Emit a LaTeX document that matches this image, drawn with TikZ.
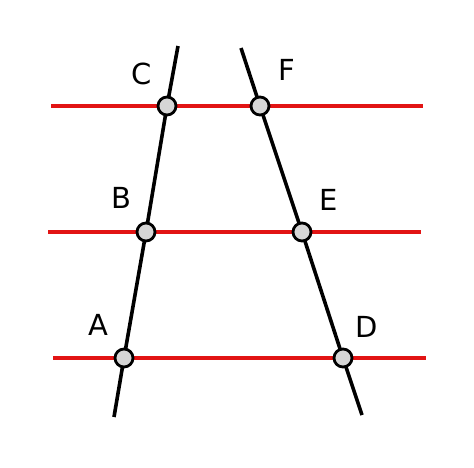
\documentclass[tikz,border=0pt]{standalone}
\usepackage{fontspec}
\setmainfont{DejaVu Sans}
\usetikzlibrary{calc, positioning}
\pgfdeclarelayer{bg}
\pgfsetlayers{bg,main}
\definecolor{dotgray}{RGB}{214,214,214}
\definecolor{linered}{RGB}{226,20,20}

\begin{document}
\begin{tikzpicture}[x=1pt, y=-1pt,
	dot/.style={circle, draw=black, line width=2.8pt, fill=dotgray, minimum size=18pt, inner sep=0pt},
	lbl/.style={font=\fontsize{29}{29}\selectfont, text=black, inner sep=0pt},
	transversal/.style={line width=3.6pt, black},
	parallel/.style={line width=3.2pt, linered}]

	\useasboundingbox (0,0) rectangle (474,467);

	% points on the two transversals %
	\node[dot] (C) at (167,106) {};
	\node[dot] (B) at (146,232) {};
	\node[dot] (A) at (124,358) {};
	\node[dot] (F) at (260,106) {};
	\node[dot] (E) at (302,232) {};
	\node[dot] (D) at (343,358) {};

	% free ends %
	\coordinate (ltop) at (178,46);
	\coordinate (lbot) at (114,417);
	\coordinate (rtop) at (241,48);
	\coordinate (rbot) at (362,415);
	\coordinate (p1l) at (51,106);
	\coordinate (p1r) at (423,106);
	\coordinate (p2l) at (48,232);
	\coordinate (p2r) at (421,232);
	\coordinate (p3l) at (53,358);
	\coordinate (p3r) at (426,358);

	% labels %
	\node[lbl] (labC) at (142,74) {C};
	\node[lbl] (labF) at (287,70) {F};
	\node[lbl] (labB) at (121,198) {B};
	\node[lbl] (labE) at (329,200) {E};
	\node[lbl] (labA) at (98,325) {A};
	\node[lbl] (labD) at (367,327) {D};

	% edges %
	\begin{pgfonlayer}{bg}
		\fill[white] (0,0) rectangle (474,467);
		\draw[parallel] (p1l) -- (C.center) -- (F.center) -- (p1r);
		\draw[parallel] (p2l) -- (B.center) -- (E.center) -- (p2r);
		\draw[parallel] (p3l) -- (A.center) -- (D.center) -- (p3r);
		\draw[transversal] (ltop) -- (C.center) -- (B.center) -- (A.center) -- (lbot);
		\draw[transversal] (rtop) -- (F.center) -- (E.center) -- (D.center) -- (rbot);
	\end{pgfonlayer}

\end{tikzpicture}
\end{document}
